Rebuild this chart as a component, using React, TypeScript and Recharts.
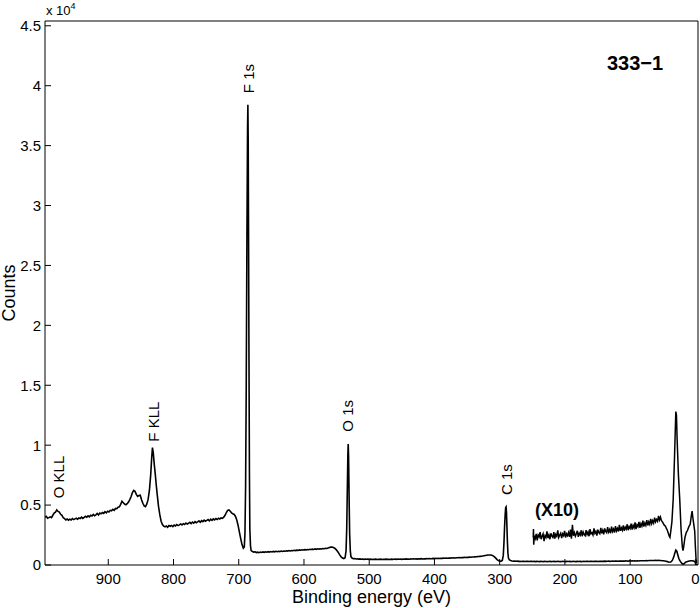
import React from 'react';
import { LineChart, Line, XAxis, YAxis, ReferenceDot } from 'recharts';

const FONT = '"Liberation Sans", Arial, Helvetica, sans-serif';

// Survey spectrum: [binding energy (eV), counts]
const surveyPoints: [number, number][] = [
  [997,3980],[995,4060],[993,3900],[991,3950],[989,4020],[987,3960],[985,4150],[983,4330],[981,4400],[979,4600],[977,4470],[975,4420],[973,4230],[971,4150],[969,3940],[967,3870],[965,3760],[963,3840],[961,3740],[959,3820],[957,3760],[955,3880],[953,3790],[951,3850],[949,3900],[947,3820],[945,3930],[943,3880],[941,4000],[939,3890],[937,3980],[935,4070],[933,3990],[931,4100],[929,4020],[927,4150],[925,4090],[923,4220],[921,4110],[919,4190],[917,4300],[915,4180],[913,4340],[911,4270],[909,4380],[907,4310],[905,4450],[903,4360],[901,4490],[899,4420],[897,4560],[895,4520],[893,4650],[891,4560],[889,4720],[887,4700],[885,4830],[883,4850],[881,5060],[879,5320],[877,5200],[875,5080],[873,5030],[871,5120],[869,5250],[867,5460],[865,5720],[863,6050],[861,6220],[859,6150],[857,5900],[855,5720],[853,5800],[851,5820],[849,5450],[847,5150],[845,4930],[843,4870],[841,5080],[839,5450],[837,6200],[835,7500],[833.5,8900],[832.3,9800],[831,9350],[829.5,8400],[828,7600],[826.5,6700],[825,5900],[823,4900],[821,4200],[819,3650],[817,3380],[815,3250],[813,3180],[811,3260],[809,3150],[807,3290],[805,3230],[803,3300],[801,3210],[799,3330],[797,3260],[795,3380],[793,3290],[791,3350],[789,3430],[787,3340],[785,3450],[783,3380],[781,3500],[779,3420],[777,3480],[775,3560],[773,3450],[771,3580],[769,3500],[767,3620],[765,3530],[763,3600],[761,3680],[759,3570],[757,3700],[755,3620],[753,3740],[751,3650],[749,3720],[747,3790],[745,3680],[743,3820],[741,3730],[739,3850],[737,3760],[735,3880],[733,3800],[731,3900],[729,3840],[727,3930],[725,3900],[723,3990],[721,4150],[719,4380],[717,4560],[715,4600],[713,4480],[711,4350],[709,4280],[707,4220],[705,4050],[703,3750],[701,3300],[699,2750],[697,2200],[695,1700],[693,1400],[691.5,1500],[690.5,2600],[689.5,6500],[688.5,15000],[687.5,27000],[686.5,36500],[686,38400],[685.5,35500],[685,28000],[684.3,17000],[683.6,7500],[683,3000],[682,1600],[681,1200],[679,1120],[677,1080],[675,1100],[673,1040],[671,1070],[669,1030],[667,1080],[665,1050],[663,1090],[661,1060],[659,1100],[657,1070],[655,1110],[653,1080],[651,1120],[649,1090],[647,1130],[645,1100],[643,1140],[641,1110],[639,1150],[637,1120],[635,1160],[633,1130],[631,1170],[629,1150],[627,1190],[625,1160],[623,1200],[621,1170],[619,1210],[617,1190],[615,1230],[613,1200],[611,1240],[609,1220],[607,1260],[605,1230],[603,1270],[601,1250],[599,1280],[597,1260],[595,1290],[593,1270],[591,1310],[589,1290],[587,1320],[585,1300],[583,1340],[581,1310],[579,1350],[577,1330],[575,1360],[573,1340],[571,1380],[569,1360],[567,1390],[565,1380],[563,1420],[561,1460],[559,1490],[557,1500],[555,1470],[553,1400],[551,1300],[549,1170],[547,1010],[545,820],[543,680],[541,580],[539,540],[537,600],[535.5,1200],[534.5,3000],[533.5,6500],[532.7,9300],[532.2,10100],[531.6,9000],[530.8,5500],[530,2600],[529,1200],[528,700],[526,560],[524,520],[522,540],[520,500],[518,520],[516,490],[514,510],[512,480],[510,500],[508,470],[506,490],[504,480],[502,500],[500,470],[498,490],[496,460],[494,480],[492,470],[490,490],[488,460],[486,480],[484,470],[482,490],[480,460],[478,480],[476,470],[474,490],[472,470],[470,480],[468,460],[466,490],[464,470],[462,480],[460,490],[458,470],[456,500],[454,480],[452,490],[450,470],[448,500],[446,480],[444,510],[442,490],[440,500],[438,480],[436,510],[434,500],[432,520],[430,500],[428,510],[426,490],[424,520],[422,510],[420,530],[418,500],[416,520],[414,510],[412,530],[410,520],[408,540],[406,520],[404,530],[402,550],[400,530],[398,550],[396,540],[394,560],[392,540],[390,560],[388,550],[386,570],[384,560],[382,580],[380,560],[378,580],[376,570],[374,590],[372,580],[370,600],[368,590],[366,610],[364,600],[362,620],[360,610],[358,630],[356,620],[354,640],[352,630],[350,650],[348,640],[346,660],[344,650],[342,670],[340,670],[338,680],[336,690],[334,700],[332,710],[330,720],[328,730],[326,750],[324,770],[322,790],[320,810],[318,830],[316,840],[314,840],[312,810],[310,760],[308,680],[306,570],[304,450],[302,370],[300,320],[298,310],[296,380],[294.5,800],[293.5,1800],[292.5,3200],[291.5,4300],[290.8,4800],[290.2,4850],[289.6,4400],[289,3400],[288.2,2000],[287.4,1000],[286.5,560],[285,420],[283,370],[281,340],[279,320],[277,330],[275,310],[273,320],[271,300],[269,310],[267,290],[265,310],[263,300],[261,290],[259,310],[257,300],[255,290],[253,300],[251,310],[249,290],[247,300],[245,280],[243,300],[241,290],[239,280],[237,300],[235,290],[233,280],[231,300],[229,290],[227,280],[225,290],[223,300],[221,280],[219,290],[217,300],[215,280],[213,290],[211,300],[209,290],[207,280],[205,290],[203,300],[201,290],[199,280],[197,300],[195,290],[193,300],[191,280],[189,290],[187,300],[185,290],[183,280],[181,300],[179,290],[177,300],[175,280],[173,290],[171,300],[169,290],[167,300],[165,310],[163,290],[161,300],[159,310],[157,290],[155,300],[153,310],[151,300],[149,290],[147,310],[145,300],[143,310],[141,300],[139,320],[137,300],[135,310],[133,320],[131,300],[129,310],[127,320],[125,310],[123,320],[121,330],[119,310],[117,320],[115,330],[113,320],[111,330],[109,320],[107,340],[105,330],[103,320],[101,340],[99,330],[97,340],[95,330],[93,350],[91,340],[89,350],[87,340],[85,360],[83,350],[81,360],[79,350],[77,360],[75,370],[73,360],[71,370],[69,380],[67,370],[65,380],[63,370],[61,390],[59,380],[57,390],[55,380],[53,370],[51,360],[49,350],[47,330],[45,310],[43,280],[41,250],[39,230],[37,280],[35,420],[33,700],[31.5,1000],[30,1250],[28.5,1150],[27,850],[25.5,560],[24,380],[22.5,260],[21,160],[19.5,90],[18,80],[16.5,150],[15,230],[13,280],[11,310],[9,330],[7,350],[5,360],[3,340],[1,280],[0,180],[-1,80],[-2,20],[-3,0],[-4,0],
];

// Low binding energy region magnified x10: [eV, counts]
const x10Points: [number, number][] = [
  [248.6,2300],[248.2,3000],[247.8,1700],[247,2450],[245.5,2200],[244,2600],[242.5,2050],[241,2500],[239.5,2350],[238,2750],[236.5,2150],[235,2400],[233.5,2600],[232,2000],[230.5,2450],[229,2300],[227.5,2800],[226,2250],[224.5,2500],[223,2150],[221.5,2650],[220,2400],[218.5,2300],[217,2750],[215.5,2200],[214,2550],[212.5,2400],[211,2900],[209.5,2300],[208,2500],[206.5,2650],[205,2250],[203.5,2600],[202,2450],[200.5,2850],[199,2300],[197.5,2600],[196,2450],[194.5,2700],[193,2350],[191.5,2950],[190,2200],[188.5,3350],[187,2450],[185.5,2700],[184,2400],[182.5,2600],[181,2850],[179.5,2350],[178,2650],[176.5,2500],[175,2900],[173.5,2400],[172,2750],[170.5,2550],[169,2450],[167.5,2900],[166,2550],[164.5,2750],[163,2400],[161.5,3000],[160,2600],[158.5,2700],[157,2500],[155.5,3050],[154,2650],[152.5,2800],[151,2450],[149.5,2950],[148,2700],[146.5,2600],[145,3100],[143.5,2650],[142,2900],[140.5,2550],[139,3050],[137.5,2800],[136,2700],[134.5,3150],[133,2750],[131.5,2950],[130,2650],[128.5,3200],[127,2800],[125.5,3000],[124,2700],[122.5,3250],[121,2850],[119.5,3050],[118,2800],[116.5,3350],[115,2850],[113.5,3100],[112,2900],[110.5,3300],[109,2850],[107.5,3150],[106,3000],[104.5,3400],[103,2900],[101.5,3200],[100,3050],[98.5,3450],[97,2950],[95.5,3300],[94,3100],[92.5,3550],[91,3000],[89.5,3350],[88,3200],[86.5,3600],[85,3100],[83.5,3450],[82,3250],[80.5,3700],[79,3200],[77.5,3500],[76,3300],[74.5,3750],[73,3300],[71.5,3600],[70,3400],[68.5,3850],[67,3450],[65.5,3700],[64,3500],[62.5,3950],[61,3600],[59.5,3800],[58,3650],[56.5,4100],[55,3750],[53.5,4000],[52,3700],[50.5,3600],[49,3450],[47.5,3300],[46,3250],[44.5,3050],[43,2900],[41.5,2650],[40,2400],[39,2300],[38,2700],[36,3600],[34,5500],[32,9000],[30,12800],[29,12500],[28,10500],[26,7500],[24,5500],[22,3000],[20,1500],[19,1200],[18,1500],[16,2300],[14,2700],[12,2900],[10,3200],[8,3400],[6,4200],[5,4500],[4,4000],[2,3200],[1,2800],[0,1500],[-1,500],[-2,150],
];

const xTicks = [0, 100, 200, 300, 400, 500, 600, 700, 800, 900];
const yTicks = [0, 5000, 10000, 15000, 20000, 25000, 30000, 35000, 40000, 45000];

// Peak annotations: label text, energy and count level where the label starts
const peakLabels = [
  { text: 'O KLL', ev: 976.6, counts: 5570 },
  { text: 'F KLL', ev: 831, counts: 10290 },
  { text: 'F 1s', ev: 685.3, counts: 39380 },
  { text: 'O 1s', ev: 532.5, counts: 11130 },
  { text: 'C 1s', ev: 289.2, counts: 5840 },
];

const sampleName = { text: '333\u22121', ev: 92.5, counts: 41330 };
const magnification = { text: '(X10)', ev: 245.8, counts: 4090 };
const scaleNote = { ev: 995.5, counts: 45920 };

const surveyData = surveyPoints.map(([ev, counts]) => ({ ev, counts }));
const x10Data = x10Points.map(([ev, counts]) => ({ ev, counts }));

const X_DOMAIN: [number, number] = [-4, 997];
const Y_DOMAIN: [number, number] = [0, 45400];

export default function App() {
  return (
    <div style={{ position: 'absolute', left: 0, top: 0, width: 700, height: 608, background: '#fff' }}>
      <LineChart width={700} height={608} margin={{ top: 20, right: 1, bottom: 0, left: 0 }}>
        <XAxis
          xAxisId="b"
          type="number"
          dataKey="ev"
          domain={X_DOMAIN}
          allowDataOverflow
          reversed
          ticks={xTicks}
          interval={0}
          orientation="bottom"
          height={43}
          tickSize={-6}
          tickMargin={14}
          stroke="#000"
          tick={{ fill: '#000', fontSize: 15, fontFamily: FONT }}
          label={(props: any) => {
            const vb = props.viewBox;
            return (
              <text x={vb.x + vb.width / 2} y={vb.y + 38} textAnchor="middle" fontSize={18} fontFamily={FONT} fill="#000">
                Binding energy (eV)
              </text>
            );
          }}
        />
        <XAxis
          xAxisId="t"
          type="number"
          dataKey="ev"
          domain={X_DOMAIN}
          allowDataOverflow
          reversed
          ticks={xTicks}
          interval={0}
          orientation="top"
          height={1}
          tickSize={-6}
          tick={false}
          stroke="#000"
        />
        <YAxis
          yAxisId="l"
          type="number"
          domain={Y_DOMAIN}
          allowDataOverflow
          ticks={yTicks}
          interval={0}
          width={45}
          tickSize={-6}
          tickMargin={10}
          stroke="#000"
          tickFormatter={(v: number) => String(v / 10000)}
          tick={{ fill: '#000', fontSize: 15, fontFamily: FONT }}
          label={(props: any) => {
            const vb = props.viewBox;
            const cy = vb.y + vb.height / 2;
            return (
              <text x={15} y={cy} transform={`rotate(-90 15 ${cy})`} textAnchor="middle" fontSize={18} fontFamily={FONT} fill="#000">
                Counts
              </text>
            );
          }}
        />
        <YAxis
          yAxisId="r"
          orientation="right"
          type="number"
          domain={Y_DOMAIN}
          allowDataOverflow
          ticks={yTicks}
          interval={0}
          width={1}
          tickSize={-6}
          tick={false}
          stroke="#000"
        />
        <Line
          xAxisId="b"
          yAxisId="l"
          data={surveyData}
          dataKey="counts"
          type="linear"
          stroke="#000"
          strokeWidth={1.6}
          dot={false}
          activeDot={false}
          isAnimationActive={false}
        />
        <Line
          xAxisId="b"
          yAxisId="l"
          data={x10Data}
          dataKey="counts"
          type="linear"
          stroke="#000"
          strokeWidth={1.5}
          dot={false}
          activeDot={false}
          isAnimationActive={false}
        />
        {peakLabels.map((p) => (
          <ReferenceDot
            key={p.text}
            xAxisId="b"
            yAxisId="l"
            x={p.ev}
            y={p.counts}
            ifOverflow="visible"
            shape={(props: any) => {
              const ax = props.cx + 5.4;
              const ay = props.cy;
              return (
                <text x={ax} y={ay} transform={`rotate(-90 ${ax} ${ay})`} textAnchor="start" fontSize={15} fontFamily={FONT} fill="#000">
                  {p.text}
                </text>
              );
            }}
          />
        ))}
        <ReferenceDot
          xAxisId="b"
          yAxisId="l"
          x={sampleName.ev}
          y={sampleName.counts}
          ifOverflow="visible"
          shape={(props: any) => (
            <text x={props.cx} y={props.cy} textAnchor="middle" fontSize={20} fontWeight="bold" fontFamily={FONT} fill="#000">
              {sampleName.text}
            </text>
          )}
        />
        <ReferenceDot
          xAxisId="b"
          yAxisId="l"
          x={magnification.ev}
          y={magnification.counts}
          ifOverflow="visible"
          shape={(props: any) => (
            <text x={props.cx} y={props.cy} textAnchor="start" fontSize={18} fontWeight="bold" fontFamily={FONT} fill="#000">
              {magnification.text}
            </text>
          )}
        />
        <ReferenceDot
          xAxisId="b"
          yAxisId="l"
          x={scaleNote.ev}
          y={scaleNote.counts}
          ifOverflow="visible"
          shape={(props: any) => (
            <text x={props.cx} y={props.cy} textAnchor="start" fontSize={13} fontFamily={FONT} fill="#000">
              x 10
              <tspan dy={-6} fontSize={9}>4</tspan>
            </text>
          )}
        />
      </LineChart>
    </div>
  );
}
